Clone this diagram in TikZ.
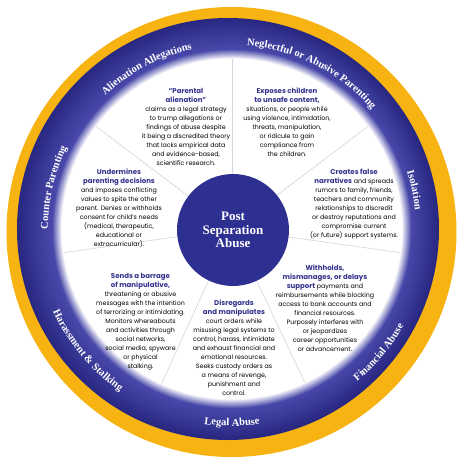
\documentclass[tikz,border=0pt]{standalone}
\usepackage{fontspec}
\newfontfamily\bodyfont{Poppins}
\newfontfamily\serifb{Liberation Serif}
\usetikzlibrary{decorations.text}
\definecolor{gold}{RGB}{246,179,18}
\definecolor{ringdark}{RGB}{40,40,130}
\definecolor{ringmid}{RGB}{72,72,170}
\definecolor{hubblue}{RGB}{45,47,145}
\definecolor{headblue}{RGB}{52,50,140}
\definecolor{spokegray}{RGB}{212,212,224}
\newcommand{\hd}[1]{{\color{headblue}\bfseries\fontsize{7}{9}\selectfont #1}}
\tikzset{
  textblock/.style={align=center, font=\bodyfont\fontsize{6.3}{9}\selectfont, text=black, inner sep=0pt},
  hub/.style={circle, fill=hubblue, minimum size=112pt, inner sep=0pt, align=center, text=white,
     font=\serifb\bfseries\fontsize{13}{13.5}\selectfont},
  spoke/.style={draw=spokegray, line width=0.6pt},
  toplabel/.style={decorate, decoration={text along path, text align=center, text color=white, text={|\serifb\bfseries\fontsize{10.5}{12}\selectfont|#1}}},
}
\begin{document}
\begin{tikzpicture}[x=1pt,y=1pt]
\useasboundingbox (-232,-242) rectangle (242,232);
\fill[white] (-232,-242) rectangle (242,232);
% outer gold ring
\fill[gold] (-0.5,0) circle (225pt);
% blue ring gradient
\foreach \i in {0,...,31}{
  \pgfmathsetmacro{\r}{211-\i}
  \pgfmathsetmacro{\cx}{-4+4*\i/40}
  \pgfmathsetmacro{\p}{100*\i/31}
  \fill[ringmid!\p!ringdark] (\cx,3) circle (\r pt);
}
\foreach \i in {0,...,12}{
  \pgfmathsetmacro{\r}{180-0.8*\i}
  \pgfmathsetmacro{\p}{100*\i/12}
  \fill[white!\p!ringmid] (0,3) circle (\r pt);
}
\fill[white] (0,3) circle (169.5pt);
% spokes
\coordinate (c0) at (0,3);
\foreach \a in {90,37,-8,-64.6,-114.5,-172,143}
  \draw[spoke] (c0) -- ++(\a:170pt);
% ring labels (clockwise, outward)
\path[toplabel={Counter Parenting}] (0,3) ++(227:184pt) arc[start angle=227, end angle=107, radius=184pt];
\path[toplabel={Alienation Allegations}] (0,3) ++(178:184pt) arc[start angle=178, end angle=58, radius=184pt];
\path[toplabel={Neglectful or Abusive Parenting}] (0,3) ++(123:184pt) arc[start angle=123, end angle=3, radius=184pt];
\path[toplabel={Isolation}] (0,3) ++(72:184pt) arc[start angle=72, end angle=-48, radius=184pt];
% ring labels (counterclockwise, inward)
\path[toplabel={Financial Abuse}] (0,3) ++(-100:197pt) arc[start angle=-100, end angle=20, radius=197pt];
\path[toplabel={Legal Abuse}] (0,3) ++(-150:197pt) arc[start angle=-150, end angle=-30, radius=197pt];
\path[toplabel={Harassment {\&} Stalking}] (0,3) ++(160:197pt) arc[start angle=160, end angle=280, radius=197pt];
% hub
\node[hub] (hub) at (1,2) {Post\\Separation\\Abuse};
% text blocks
\node[textblock] (b1) at (-46,105) {\hd{“Parental}\\\hd{alienation”}\\claims as a legal strategy\\to trump allegations or\\findings of abuse despite\\it being a discredited theory\\that lacks empirical data\\and evidence-based,\\scientific research.};
\node[textblock] (b2) at (55,109.5) {\hd{Exposes children}\\\hd{to unsafe content,}\\situations, or people while\\using violence, intimidation,\\threats, manipulation,\\or ridicule to gain\\compliance from\\the children.};
\node[textblock] (b3) at (-113,24) {\hd{Undermines}\\\hd{parenting decisions}\\and imposes conflicting\\values to spite the other\\parent. Denies or withholds\\consent for child’s needs\\(medical, therapeutic,\\educational or\\extracurricular).};
\node[textblock] (b4) at (122,27.5) {\hd{Creates false}\\\hd{narratives} and spreads\\rumors to family, friends,\\teachers and community\\relationships to discredit\\or destroy reputations and\\compromise current\\(or future) support systems.};
\node[textblock] (b5) at (-91.5,-90) {\hd{Sends a barrage}\\\hd{of manipulative,}\\threatening or abusive\\messages with the intention\\of terrorizing or intimidating.\\Monitors whereabouts\\and activities through\\social networks,\\social media, spyware\\or physical\\stalking.};
\node[textblock] (b6) at (2,-116) {\hd{Disregards}\\\hd{and manipulates}\\court orders while\\misusing legal systems to\\control, harass, intimidate\\and exhaust financial and\\emotional resources.\\Seeks custody orders as\\a means of revenge,\\punishment and\\control.};
\node[textblock] (b7) at (93,-76.5) {\hd{Withholds,}\\\hd{mismanages, or delays}\\\hd{support} payments and\\reimbursements while blocking\\access to bank accounts and\\financial resources.\\Purposely interferes with\\or jeopardizes\\career opportunities\\or advancement.};
\end{tikzpicture}
\end{document}
